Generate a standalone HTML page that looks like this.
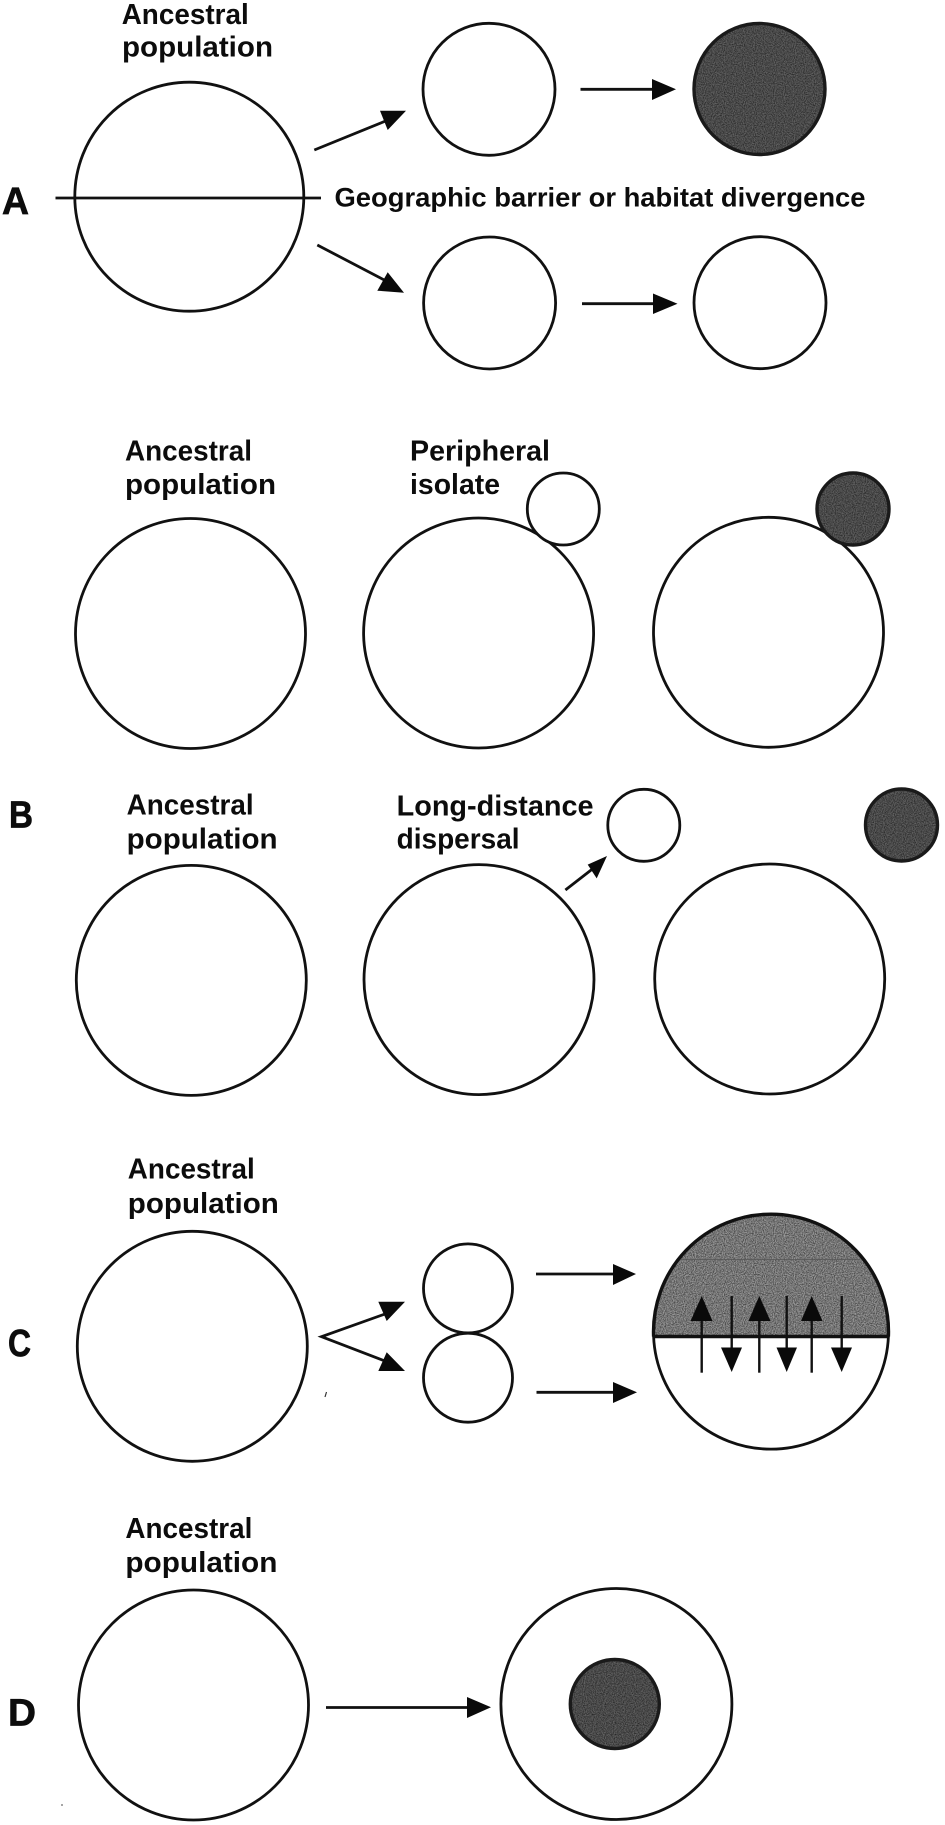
<!DOCTYPE html>
<html><head><meta charset="utf-8"><style>
html,body{margin:0;padding:0;background:#fff}
svg{display:block}
text{font-family:"Liberation Sans",sans-serif;fill:#0c0c0c}
.t{font-size:29px;font-weight:700}
.b{font-size:27px;font-weight:700}
.l{font-size:38px;font-weight:700;stroke:#0c0c0c;stroke-width:.7}
.c{fill:#fff;stroke:#111;stroke-width:2.8}
.n{fill:none;stroke:#111;stroke-width:2.8}
.d{fill:#626262;filter:url(#noise)}
.o{fill:none;stroke:#1a1a1a;stroke-width:3.4}
.a{stroke:#111;stroke-width:2.8;fill:none}
.h{fill:#0a0a0a;stroke:none}
</style></head><body>
<svg width="945" height="1825" viewBox="0 0 945 1825" xmlns="http://www.w3.org/2000/svg">
<defs>
<filter id="noise" x="0" y="0" width="100%" height="100%" color-interpolation-filters="sRGB">
<feTurbulence type="fractalNoise" baseFrequency="0.9" numOctaves="2" seed="3"/>
<feColorMatrix values="0 0 0 0 0  0 0 0 0 0  0 0 0 0 0  1.2 0 0 0 -0.35"/>
<feComposite in2="SourceAlpha" operator="in" result="g"/>
<feMerge><feMergeNode in="SourceGraphic"/><feMergeNode in="g"/></feMerge>
</filter>
</defs>
<rect width="945" height="1825" fill="#fff"/>

<!-- A -->
<text class="t" x="121.7" y="24" textLength="127" lengthAdjust="spacingAndGlyphs">Ancestral</text>
<text class="t" x="122" y="56.7" textLength="151" lengthAdjust="spacingAndGlyphs">population</text>
<circle class="c" cx="189.3" cy="196.7" r="114.5"/>
<circle class="c" cx="489" cy="89.3" r="66"/>
<circle class="d" cx="759.5" cy="89" r="66"/><circle class="o" cx="759.5" cy="89" r="65.5"/>
<circle class="c" cx="489.6" cy="303" r="66"/>
<circle class="c" cx="760" cy="302.7" r="66"/>
<line class="a" x1="55.5" y1="198" x2="321" y2="198" stroke-width="3.2"/>
<text class="l" x="2" y="214" textLength="27" lengthAdjust="spacingAndGlyphs">A</text>
<text class="b" x="334.5" y="206.7" textLength="531" lengthAdjust="spacingAndGlyphs">Geographic barrier or habitat divergence</text>
<line class="a" x1="314.3" y1="150" x2="393" y2="118"/>
<polygon class="h" points="406,110.7 380,110.7 387.7,130"/>
<line class="a" x1="317.3" y1="245" x2="390" y2="283"/>
<polygon class="h" points="404,292.7 377.3,290.7 387.7,272.3"/>
<line class="a" x1="580.5" y1="89.3" x2="656" y2="89.3"/>
<polygon class="h" points="676,89.3 652,79 652,100"/>
<line class="a" x1="582" y1="303.7" x2="656" y2="303.7"/>
<polygon class="h" points="677.5,303.7 653,293.5 653,314"/>

<!-- B first row -->
<text class="t" x="125" y="460.5" textLength="127" lengthAdjust="spacingAndGlyphs">Ancestral</text>
<text class="t" x="125" y="494" textLength="151" lengthAdjust="spacingAndGlyphs">population</text>
<text class="t" x="410" y="460.5" textLength="140" lengthAdjust="spacingAndGlyphs">Peripheral</text>
<text class="t" x="410" y="494" textLength="90" lengthAdjust="spacingAndGlyphs">isolate</text>
<circle class="c" cx="190.5" cy="633.5" r="115"/>
<circle class="c" cx="478.6" cy="633" r="115"/>
<circle class="c" cx="563.3" cy="509" r="36"/>
<circle class="c" cx="768.5" cy="632.3" r="115"/>
<circle class="d" cx="853" cy="509" r="36.5"/><circle class="o" cx="853" cy="509" r="36"/>

<!-- B second row -->
<text class="l" x="9" y="827.5" textLength="24" lengthAdjust="spacingAndGlyphs">B</text>
<text class="t" x="126.6" y="814.5" textLength="127" lengthAdjust="spacingAndGlyphs">Ancestral</text>
<text class="t" x="126.6" y="848.5" textLength="151" lengthAdjust="spacingAndGlyphs">population</text>
<text class="t" x="396.6" y="815.5" textLength="197" lengthAdjust="spacingAndGlyphs">Long-distance</text>
<text class="t" x="396.6" y="848.5" textLength="123" lengthAdjust="spacingAndGlyphs">dispersal</text>
<circle class="c" cx="191.3" cy="980.4" r="115"/>
<circle class="c" cx="479" cy="979.6" r="115"/>
<circle class="c" cx="769.7" cy="979" r="115"/>
<circle class="c" cx="643.8" cy="825.3" r="36"/>
<circle class="d" cx="901.5" cy="825" r="36.5"/><circle class="o" cx="901.5" cy="825" r="36"/>
<line class="a" x1="565.4" y1="890" x2="595" y2="867"/>
<polygon class="h" points="607,856 587.7,864.6 596.7,878.4"/>

<!-- C -->
<text class="t" x="127.8" y="1178.5" textLength="127" lengthAdjust="spacingAndGlyphs">Ancestral</text>
<text class="t" x="127.8" y="1213" textLength="151" lengthAdjust="spacingAndGlyphs">population</text>
<text class="l" x="8" y="1356" textLength="23" lengthAdjust="spacingAndGlyphs">C</text>
<circle class="c" cx="192.3" cy="1346.3" r="115"/>
<circle class="c" cx="468" cy="1288.4" r="44.5"/>
<circle class="c" cx="468" cy="1377.7" r="44.5"/>
<polyline class="a" points="392,1311.5 321.5,1336.7 390,1363"/>
<polygon class="h" points="405,1301.7 378.3,1301.7 386.7,1321"/>
<polygon class="h" points="405,1371 378.3,1371 386.7,1352.3"/>
<line class="a" x1="536" y1="1274" x2="616" y2="1274"/>
<polygon class="h" points="636,1274 613,1264 613,1285"/>
<line class="a" x1="536.5" y1="1392.3" x2="616" y2="1392.3"/>
<polygon class="h" points="637,1392.3 613,1382 613,1403"/>
<path d="M653.6 1336.5 A117.5 117.5 0 1 1 888.4 1336.5 Z" fill="#9c9c9c" filter="url(#noise)"/>
<line x1="681" y1="1259.5" x2="860" y2="1259.5" stroke="#555" stroke-width="0.7"/>
<path d="M653.6 1336.5 A117.5 117.5 0 1 1 888.4 1336.5" fill="none" stroke="#111" stroke-width="3.4"/>
<path d="M653.6 1336.5 A117.5 117.5 0 0 0 888.4 1336.5" fill="none" stroke="#111" stroke-width="2.8"/>
<line x1="653" y1="1336.5" x2="889" y2="1336.5" stroke="#111" stroke-width="3.4"/>
<g stroke="#111" stroke-width="2.4">
<line x1="701.7" y1="1372.7" x2="701.7" y2="1315"/>
<line x1="759.3" y1="1372.7" x2="759.3" y2="1315"/>
<line x1="811.7" y1="1372.7" x2="811.7" y2="1315"/>
<line x1="731.7" y1="1296" x2="731.7" y2="1352"/>
<line x1="786.7" y1="1296" x2="786.7" y2="1352"/>
<line x1="841.7" y1="1296" x2="841.7" y2="1352"/>
</g>
<polygon class="h" points="701.7,1296 690.5,1321 712.5,1321"/>
<polygon class="h" points="759.3,1296 748.5,1321 770.5,1321"/>
<polygon class="h" points="811.7,1296 801,1321 822.5,1321"/>
<polygon class="h" points="731.7,1372 721,1347.5 742,1347.5"/>
<polygon class="h" points="786.7,1372 776.5,1347.5 797,1347.5"/>
<polygon class="h" points="841.7,1372 831,1347.5 852,1347.5"/>
<line x1="326.5" y1="1392" x2="325" y2="1397" stroke="#333" stroke-width="1.2"/>

<!-- D -->
<text class="t" x="125.4" y="1538" textLength="127" lengthAdjust="spacingAndGlyphs">Ancestral</text>
<text class="t" x="125.4" y="1572" textLength="152" lengthAdjust="spacingAndGlyphs">population</text>
<text class="l" x="8" y="1725.5" textLength="28" lengthAdjust="spacingAndGlyphs">D</text>
<circle class="c" cx="193.5" cy="1705" r="115"/>
<circle class="c" cx="616.4" cy="1704" r="115.5"/>
<circle class="d" cx="614.8" cy="1704" r="45"/><circle class="o" cx="614.8" cy="1704" r="44.5"/>
<line class="a" x1="326" y1="1707.5" x2="472" y2="1707.5"/>
<polygon class="h" points="491,1707.3 467,1697 467,1718"/>
<circle cx="62" cy="1805" r="0.9" fill="#666"/>
</svg>
</body></html>
